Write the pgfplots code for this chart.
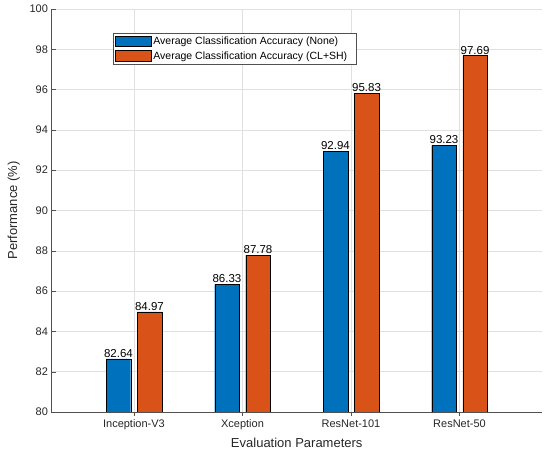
\documentclass[border=0pt]{standalone}
\usepackage{pgfplots}
\pgfplotsset{compat=1.18}
\usepackage{fontspec}
\setmainfont{Liberation Sans}
\definecolor{mblue}{RGB}{0,114,189}
\definecolor{morange}{RGB}{217,83,25}
\definecolor{axgray}{RGB}{38,38,38}
\begin{document}
\begin{tikzpicture}
\useasboundingbox (0,0) rectangle (550pt,455pt);
\begin{axis}[
  at={(51.5pt,43pt)}, anchor=south west, scale only axis,
  width=490.5pt, height=403pt,
  xmin=0.24, xmax=4.76, ymin=80, ymax=100,
  xtick={1,2,3,4},
  xticklabels={Inception-V3,Xception,ResNet-101,ResNet-50},
  ytick={80,82,...,100},
  axis x line*=bottom, axis y line*=left,
  axis line style={color=axgray!80, -},
  grid=major, major grid style={black!12},
  tick align=inside, major tick length=4pt,
  tick style={axgray!80},
  xlabel={Evaluation Parameters}, ylabel={Performance (\%)},
  ticklabel style={font=\fontsize{11}{13}\selectfont, text=axgray},
  label style={font=\fontsize{13}{15}\selectfont, text=axgray},
  xlabel style={yshift=-1pt},
  ylabel style={yshift=3pt},
  /pgf/number format/assume math mode=true,
  ybar, bar width=0.226,
  nodes near coords,
  nodes near coords style={font=\fontsize{11.5}{13}\selectfont, text=black, inner sep=1.2pt,
    /pgf/number format/.cd, fixed, precision=2, fixed zerofill, assume math mode=true},
  legend style={at={(0.126,0.94)}, anchor=north west, draw=axgray!80,
    font=\fontsize{10.5}{12.5}\selectfont, inner sep=1.5pt, row sep=1.5pt,
    cells={anchor=west}},
  legend image code/.code={\draw[#1] (0pt,-5pt) rectangle (36pt,5.5pt);},
]
\addplot[fill=mblue, draw=black, bar shift=-0.143] coordinates {(1,82.64) (2,86.33) (3,92.94) (4,93.23)};
\addplot[fill=morange, draw=black, bar shift=0.143] coordinates {(1,84.97) (2,87.78) (3,95.83) (4,97.69)};
\legend{Average Classification Accuracy (None)\hspace*{5pt}, Average Classification Accuracy (CL+SH)\hspace*{5pt}}
\end{axis}
\end{tikzpicture}
\end{document}
